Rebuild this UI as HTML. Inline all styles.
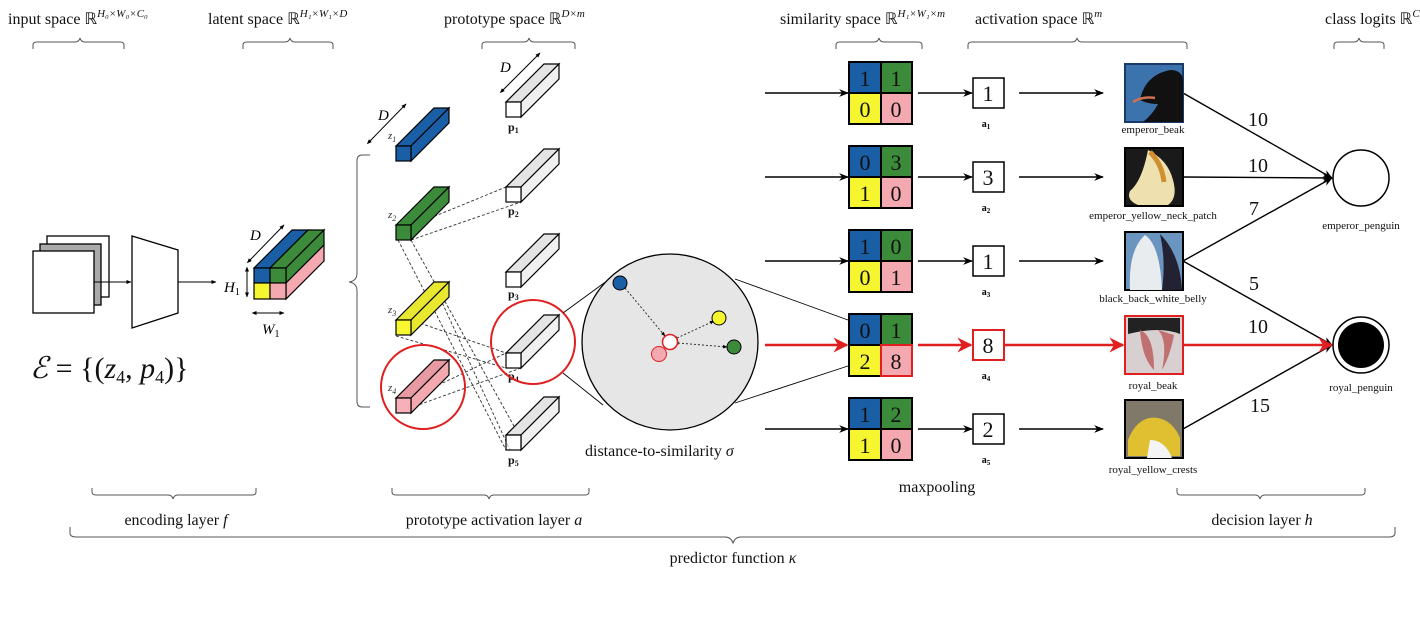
<!DOCTYPE html>
<html><head><meta charset="utf-8"><style>
html,body{margin:0;padding:0;background:#fff;}
svg{display:block;font-family:"Liberation Serif",serif;}
.t{font-size:16px;fill:#111}
.s{font-size:11px;fill:#111}
.lab{font-size:11px;fill:#111}
.num{font-size:22px;fill:#111}
.w{font-size:20px;fill:#111}
</style></head><body>
<svg width="1420" height="640" viewBox="0 0 1420 640" xmlns="http://www.w3.org/2000/svg">
<defs>
<marker id="ah" viewBox="0 0 10 10" refX="9" refY="5" markerWidth="7" markerHeight="7" orient="auto"><path d="M0,1 L10,5 L0,9 L3,5z" fill="#000"/></marker>
<marker id="ar" viewBox="0 0 10 10" refX="9" refY="5" markerWidth="6" markerHeight="6" orient="auto"><path d="M0,0 L10,5 L0,10 L3,5z" fill="#e02020"/></marker>
<marker id="sa" viewBox="0 0 10 10" refX="9" refY="5" markerWidth="5" markerHeight="5" orient="auto"><path d="M0,1 L10,5 L0,9z" fill="#000"/></marker>
<marker id="sb" viewBox="0 0 10 10" refX="1" refY="5" markerWidth="5" markerHeight="5" orient="auto-start-reverse"><path d="M0,1 L10,5 L0,9z" fill="#000"/></marker>
</defs>

<!-- top labels -->
<text class="t" x="8" y="24">input space ℝ<tspan dy="-7" font-size="11" font-style="italic">H₀×W₀×C₀</tspan></text>
<text class="t" x="208" y="24">latent space ℝ<tspan dy="-7" font-size="11" font-style="italic">H₁×W₁×D</tspan></text>
<text class="t" x="444" y="24">prototype space ℝ<tspan dy="-7" font-size="11" font-style="italic">D×m</tspan></text>
<text class="t" x="780" y="24">similarity space ℝ<tspan dy="-7" font-size="11" font-style="italic">H₁×W₁×m</tspan></text>
<text class="t" x="975" y="24">activation space ℝ<tspan dy="-7" font-size="11" font-style="italic">m</tspan></text>
<text class="t" x="1325" y="24">class logits  ℝ<tspan dy="-7" font-size="11" font-style="italic">C</tspan></text>

<g fill="none" stroke="#555" stroke-width="1">
<!-- top braces -->
<path d="M33,49 v-4 q0,-3 4,-3 h38 q4,0 5,-4 q1,4 5,4 h35 q4,0 4,3 v4"/>
<path d="M243,49 v-4 q0,-3 4,-3 h38 q4,0 5,-4 q1,4 5,4 h34 q4,0 4,3 v4"/>
<path d="M482,49 v-4 q0,-3 4,-3 h38 q4,0 5,-4 q1,4 5,4 h37 q4,0 4,3 v4"/>
<path d="M836,49 v-4 q0,-3 4,-3 h34 q4,0 5,-4 q1,4 5,4 h34 q4,0 4,3 v4"/>
<path d="M968,49 v-4 q0,-3 4,-3 h100 q4,0 5,-4 q1,4 5,4 h101 q4,0 4,3 v4"/>
<path d="M1334,49 v-4 q0,-3 4,-3 h16 q4,0 5,-4 q1,4 5,4 h16 q4,0 4,3 v4"/>
<!-- bottom braces -->
<path d="M92,488 v4 q0,3 4,3 h72 q4,0 5,4 q1,-4 5,-4 h74 q4,0 4,-3 v-4"/>
<path d="M392,488 v4 q0,3 4,3 h88 q4,0 5,4 q1,-4 5,-4 h91 q4,0 4,-3 v-4"/>
<path d="M1177,488 v4 q0,3 4,3 h74 q4,0 5,4 q1,-4 5,-4 h96 q4,0 4,-3 v-4"/>
<path d="M70,527 v6 q0,4 6,4 h649 q6,0 8,6 q2,-6 8,-6 h648 q6,0 6,-4 v-6"/>
<!-- left brace of bars -->
<path d="M370,155 h-8 q-5,0 -5,6 v112 q0,8 -8,9 q8,1 8,9 v110 q0,6 5,6 h8"/>
</g>
<text class="t" x="176" y="525" text-anchor="middle">encoding layer <tspan font-style="italic">f</tspan></text>
<text class="t" x="494" y="525" text-anchor="middle">prototype activation layer <tspan font-style="italic">a</tspan></text>
<text class="t" x="1262" y="525" text-anchor="middle">decision layer <tspan font-style="italic">h</tspan></text>
<text class="t" x="733" y="563" text-anchor="middle">predictor function <tspan font-style="italic">κ</tspan></text>

<!-- input stack -->
<g stroke="#000" stroke-width="1.3">
<rect x="47" y="236" width="62" height="61" fill="#fff"/>
<rect x="40" y="244" width="61" height="61" fill="#aaa"/>
<rect x="33" y="251" width="61" height="62" fill="#fff"/>
<path d="M132,236 L178,250 L178,313 L132,328 Z" fill="#fff"/>
</g>
<line x1="94" y1="282" x2="131" y2="282" stroke="#000" marker-end="url(#sa)"/>
<line x1="178" y1="282" x2="216" y2="282" stroke="#000" marker-end="url(#sa)"/>
<text x="30" y="378" font-size="30" font-style="italic" fill="#111">ℰ <tspan font-style="normal">= {(</tspan>z<tspan font-size="18" dy="5" font-style="normal">4</tspan><tspan dy="-5" font-style="normal">, </tspan>p<tspan font-size="18" dy="5" font-style="normal">4</tspan><tspan dy="-5" font-style="normal">)}</tspan></text>

<!-- latent cube -->
<g stroke="#000" stroke-width="1.2">
<polygon points="254,268 292,230 308,230 270,268" fill="#1a5ea6"/>
<polygon points="270,268 308,230 324,230 286,268" fill="#3b8b3b"/>
<polygon points="286,268 324,230 324,245 286,283" fill="#3b8b3b"/>
<polygon points="286,283 324,245 324,261 286,299" fill="#f4a8b0"/>
<rect x="254" y="268" width="16" height="15" fill="#1a5ea6"/>
<rect x="270" y="268" width="16" height="15" fill="#3b8b3b"/>
<rect x="254" y="283" width="16" height="16" fill="#f5f530"/>
<rect x="270" y="283" width="16" height="16" fill="#f4a8b0"/>
</g>
<text x="250" y="240" font-size="15" font-style="italic">D</text>
<line x1="250" y1="260" x2="284" y2="225" stroke="#000" marker-end="url(#sa)" marker-start="url(#sb)"/>
<text x="224" y="292" font-size="15" font-style="italic">H<tspan font-size="10" dy="3" font-style="normal">1</tspan></text>
<line x1="247" y1="271" x2="247" y2="297" stroke="#000" marker-end="url(#sa)" marker-start="url(#sb)"/>
<line x1="256" y1="313" x2="284" y2="313" stroke="#000" marker-end="url(#sa)" marker-start="url(#sb)"/>
<text x="262" y="334" font-size="15" font-style="italic">W<tspan font-size="10" dy="3" font-style="normal">1</tspan></text>

<!-- dashed links -->
<g stroke="#333" stroke-width="0.9" stroke-dasharray="3,2" fill="none">
<line x1="411" y1="226" x2="506" y2="187"/>
<line x1="411" y1="240" x2="521" y2="202"/>
<line x1="398" y1="240" x2="506" y2="450"/>
<line x1="411" y1="240" x2="520" y2="437"/>
<line x1="396" y1="336" x2="506" y2="368"/>
<line x1="411" y1="320" x2="506" y2="353"/>
<line x1="396" y1="413" x2="521" y2="368"/>
<line x1="411" y1="398" x2="506" y2="353"/>
<line x1="434" y1="285" x2="510" y2="450"/>
</g>

<!-- z bars -->
<g stroke="#000" stroke-width="1.2">
<polygon points="396,146 434,108 449,108 411,146" fill="#1a5ea6"/><polygon points="411,146 449,108 449,123 411,161" fill="#1a5ea6"/><rect x="396" y="146" width="15" height="15" fill="#1a5ea6"/>
<polygon points="396,225 434,187 449,187 411,225" fill="#3b8b3b"/><polygon points="411,225 449,187 449,202 411,240" fill="#3b8b3b"/><rect x="396" y="225" width="15" height="15" fill="#3b8b3b"/>
<polygon points="396,320 434,282 449,282 411,320" fill="#e8e830"/><polygon points="411,320 449,282 449,297 411,335" fill="#e8e830"/><rect x="396" y="320" width="15" height="15" fill="#f8f830"/>
<polygon points="396,398 434,360 449,360 411,398" fill="#e89aa2"/><polygon points="411,398 449,360 449,375 411,413" fill="#f4a8b0"/><rect x="396" y="398" width="15" height="15" fill="#f8b0b8"/>
</g>
<text x="378" y="120" font-size="15" font-style="italic">D</text>
<line x1="370" y1="141" x2="406" y2="104" stroke="#000" marker-end="url(#sa)" marker-start="url(#sb)"/>
<g font-size="11" font-style="italic" fill="#333"><text x="388" y="139">z<tspan font-size="8" dy="3">1</tspan></text><text x="388" y="218">z<tspan font-size="8" dy="3">2</tspan></text><text x="388" y="313">z<tspan font-size="8" dy="3">3</tspan></text><text x="388" y="391">z<tspan font-size="8" dy="3">4</tspan></text></g>

<!-- p bars -->
<g stroke="#000" stroke-width="1.2">
<polygon points="506,102 544,64 559,64 521,102" fill="#e4e4e4"/><polygon points="521,102 559,64 559,79 521,117" fill="#f0f0f0"/><rect x="506" y="102" width="15" height="15" fill="#fff"/>
<polygon points="506,187 544,149 559,149 521,187" fill="#e4e4e4"/><polygon points="521,187 559,149 559,164 521,202" fill="#f0f0f0"/><rect x="506" y="187" width="15" height="15" fill="#fff"/>
<polygon points="506,272 544,234 559,234 521,272" fill="#e4e4e4"/><polygon points="521,272 559,234 559,249 521,287" fill="#f0f0f0"/><rect x="506" y="272" width="15" height="15" fill="#fff"/>
<polygon points="506,353 544,315 559,315 521,353" fill="#e4e4e4"/><polygon points="521,353 559,315 559,330 521,368" fill="#f0f0f0"/><rect x="506" y="353" width="15" height="15" fill="#fff"/>
<polygon points="506,435 544,397 559,397 521,435" fill="#e4e4e4"/><polygon points="521,435 559,397 559,412 521,450" fill="#f0f0f0"/><rect x="506" y="435" width="15" height="15" fill="#fff" fill-opacity="0.6"/>
</g>
<text x="500" y="72" font-size="15" font-style="italic">D</text>
<line x1="503" y1="90" x2="540" y2="53" stroke="#000" marker-end="url(#sa)" marker-start="url(#sb)"/>
<g font-size="12" font-weight="bold" fill="#111"><text x="508" y="131">p<tspan font-size="8" dy="2">1</tspan></text><text x="508" y="215">p<tspan font-size="8" dy="2">2</tspan></text><text x="508" y="298">p<tspan font-size="8" dy="2">3</tspan></text><text x="508" y="380">p<tspan font-size="8" dy="2">4</tspan></text><text x="508" y="464">p<tspan font-size="8" dy="2">5</tspan></text></g>

<!-- red circles -->
<circle cx="423" cy="387" r="42" fill="none" stroke="#e02020" stroke-width="2"/>
<circle cx="533" cy="342" r="42" fill="none" stroke="#e02020" stroke-width="2"/>

<!-- zoom circle -->
<g stroke="#000" stroke-width="0.9">
<line x1="563" y1="313" x2="615" y2="275"/>
<line x1="563" y1="373" x2="603" y2="405"/>
<line x1="735" y1="279" x2="848" y2="320"/>
<line x1="735" y1="403" x2="848" y2="366"/>
</g>
<circle cx="670" cy="342" r="88" fill="#e6e6e6" stroke="#000" stroke-width="1.3"/>
<g stroke="#222" stroke-width="0.9" stroke-dasharray="2,2" fill="none">
<line x1="625" y1="288" x2="665" y2="336" marker-end="url(#sa)" marker-start="url(#sb)"/>
<line x1="677" y1="338" x2="714" y2="321" marker-end="url(#sa)" marker-start="url(#sb)"/>
<line x1="678" y1="343" x2="727" y2="347" marker-end="url(#sa)" marker-start="url(#sb)"/>
</g>
<circle cx="620" cy="283" r="7" fill="#1a5ea6" stroke="#000"/>
<circle cx="719" cy="318" r="7" fill="#f5f530" stroke="#000"/>
<circle cx="734" cy="347" r="7" fill="#3b8b3b" stroke="#000"/>
<circle cx="659" cy="354" r="7.5" fill="#f4a8b0" stroke="#e02020"/>
<circle cx="670" cy="342" r="7.5" fill="#fff" stroke="#e02020" stroke-width="1.5"/>
<text class="t" x="585" y="456">distance-to-similarity <tspan font-style="italic">σ</tspan></text>

<!-- similarity grids -->
<g id="grids" stroke="#000" stroke-width="2">
<rect x="849" y="62" width="32" height="31" fill="#1a5ea6"/><rect x="881" y="62" width="31" height="31" fill="#3b8b3b"/><rect x="849" y="93" width="32" height="31" fill="#f5f530"/><rect x="881" y="93" width="31" height="31" fill="#f4a8b0"/>
<rect x="849" y="146" width="32" height="31" fill="#1a5ea6"/><rect x="881" y="146" width="31" height="31" fill="#3b8b3b"/><rect x="849" y="177" width="32" height="31" fill="#f5f530"/><rect x="881" y="177" width="31" height="31" fill="#f4a8b0"/>
<rect x="849" y="230" width="32" height="31" fill="#1a5ea6"/><rect x="881" y="230" width="31" height="31" fill="#3b8b3b"/><rect x="849" y="261" width="32" height="31" fill="#f5f530"/><rect x="881" y="261" width="31" height="31" fill="#f4a8b0"/>
<rect x="849" y="314" width="32" height="31" fill="#1a5ea6"/><rect x="881" y="314" width="31" height="31" fill="#3b8b3b"/><rect x="849" y="345" width="32" height="31" fill="#f5f530"/><rect x="881" y="345" width="31" height="31" fill="#f4a8b0" stroke="#e02020"/>
<rect x="849" y="398" width="32" height="31" fill="#1a5ea6"/><rect x="881" y="398" width="31" height="31" fill="#3b8b3b"/><rect x="849" y="429" width="32" height="31" fill="#f5f530"/><rect x="881" y="429" width="31" height="31" fill="#f4a8b0"/>
</g>
<g class="num" text-anchor="middle" font-size="22">
<text x="865" y="86">1</text><text x="896" y="86">1</text><text x="865" y="117">0</text><text x="896" y="117">0</text>
<text x="865" y="170">0</text><text x="896" y="170">3</text><text x="865" y="201">1</text><text x="896" y="201">0</text>
<text x="865" y="254">1</text><text x="896" y="254">0</text><text x="865" y="285">0</text><text x="896" y="285">1</text>
<text x="865" y="338">0</text><text x="896" y="338">1</text><text x="865" y="369">2</text><text x="896" y="369">8</text>
<text x="865" y="422">1</text><text x="896" y="422">2</text><text x="865" y="453">1</text><text x="896" y="453">0</text>
</g>
<text class="t" x="937" y="492" text-anchor="middle">maxpooling</text>

<!-- arrows rows -->
<g stroke="#000" stroke-width="1.4" marker-end="url(#ah)">
<line x1="765" y1="93" x2="848" y2="93"/><line x1="765" y1="177" x2="848" y2="177"/><line x1="765" y1="261" x2="848" y2="261"/><line x1="765" y1="429" x2="848" y2="429"/>
<line x1="918" y1="93" x2="972" y2="93"/><line x1="918" y1="177" x2="972" y2="177"/><line x1="918" y1="261" x2="972" y2="261"/><line x1="918" y1="429" x2="972" y2="429"/>
<line x1="1019" y1="93" x2="1103" y2="93"/><line x1="1019" y1="177" x2="1103" y2="177"/><line x1="1019" y1="261" x2="1103" y2="261"/><line x1="1019" y1="429" x2="1103" y2="429"/>
<line x1="1183" y1="93" x2="1332" y2="178"/><line x1="1183" y1="177" x2="1332" y2="178"/><line x1="1183" y1="261" x2="1332" y2="178"/><line x1="1183" y1="261" x2="1332" y2="345"/><line x1="1183" y1="429" x2="1332" y2="345"/>
</g>
<g stroke="#e02020" stroke-width="2.5" marker-end="url(#ar)">
<line x1="765" y1="345" x2="847" y2="345"/><line x1="918" y1="345" x2="971" y2="345"/><line x1="1004" y1="345" x2="1123" y2="345"/><line x1="1183" y1="345" x2="1332" y2="345"/>
</g>

<!-- activation boxes -->
<g fill="#fff" stroke="#000" stroke-width="1.5">
<rect x="973" y="78" width="31" height="30"/><rect x="973" y="162" width="31" height="30"/><rect x="973" y="246" width="31" height="30"/><rect x="973" y="330" width="31" height="30" stroke="#e02020" stroke-width="2"/><rect x="973" y="414" width="31" height="30"/>
</g>
<g class="num" text-anchor="middle"><text x="988" y="101">1</text><text x="988" y="185">3</text><text x="988" y="269">1</text><text x="988" y="353">8</text><text x="988" y="437">2</text></g>
<g font-size="10" font-weight="bold" text-anchor="middle"><text x="986" y="127">a<tspan font-size="7" dy="2">1</tspan></text><text x="986" y="211">a<tspan font-size="7" dy="2">2</tspan></text><text x="986" y="295">a<tspan font-size="7" dy="2">3</tspan></text><text x="986" y="379">a<tspan font-size="7" dy="2">4</tspan></text><text x="986" y="463">a<tspan font-size="7" dy="2">5</tspan></text></g>

<!-- images -->
<rect x="1125" y="64" width="58" height="58" fill="#3d73ad" stroke="#1a3a6a" stroke-width="2"/>
<path d="M1140,100 q5,-25 30,-30 q12,0 13,10 v42 h-40 q10,-8 15,-18 q-10,0 -18,-4z" fill="#111"/>
<path d="M1133,102 q10,-6 22,-4" stroke="#d07050" stroke-width="2.5" fill="none"/>
<rect x="1125" y="148" width="58" height="58" fill="#1a1a1a" stroke="#000" stroke-width="2"/>
<path d="M1148,150 q20,10 25,30 q5,18 -5,25 h-30 q-12,-5 -8,-14 q12,-10 18,-41z" fill="#efe0b0"/>
<path d="M1150,152 q12,12 14,30" stroke="#d09030" stroke-width="5" fill="none"/>
<rect x="1125" y="232" width="58" height="58" fill="#6a95bf" stroke="#000" stroke-width="2"/>
<path d="M1130,290 q-2,-40 15,-55 q15,10 17,55z" fill="#e8ecee"/>
<path d="M1160,234 q20,20 22,56 h-20 q4,-30 -2,-56z" fill="#223"/>
<rect x="1125" y="316" width="58" height="58" fill="#d8d0d0" stroke="#e02020" stroke-width="2"/>
<path d="M1128,318 h52 v16 q-20,-8 -52,0z" fill="#222"/>
<path d="M1140,330 q14,5 14,40 q-12,-12 -14,-40z M1158,330 q10,10 4,40 q8,-14 12,-35z" fill="#c07070"/>
<rect x="1125" y="400" width="58" height="58" fill="#807868" stroke="#000" stroke-width="2"/>
<path d="M1128,440 q10,-25 30,-22 q15,3 22,20 v18 h-52z" fill="#e0c030"/>
<path d="M1150,440 q15,0 22,18 h-25z" fill="#f4f4f4"/>
<g class="lab" text-anchor="middle">
<text x="1153" y="133">emperor_beak</text>
<text x="1153" y="219">emperor_yellow_neck_patch</text>
<text x="1153" y="302">black_back_white_belly</text>
<text x="1153" y="389">royal_beak</text>
<text x="1153" y="473">royal_yellow_crests</text>
<text x="1361" y="229">emperor_penguin</text>
<text x="1361" y="391">royal_penguin</text>
</g>

<!-- class nodes -->
<circle cx="1361" cy="178" r="28" fill="#fff" stroke="#000" stroke-width="1.5"/>
<circle cx="1361" cy="345" r="28" fill="#fff" stroke="#000" stroke-width="1.5"/>
<circle cx="1361" cy="345" r="23" fill="#000"/>
<g class="w" text-anchor="middle">
<text x="1258" y="126">10</text><text x="1258" y="172">10</text><text x="1254" y="215">7</text><text x="1254" y="290">5</text><text x="1258" y="333">10</text><text x="1260" y="412">15</text>
</g>
</svg>
</body></html>
